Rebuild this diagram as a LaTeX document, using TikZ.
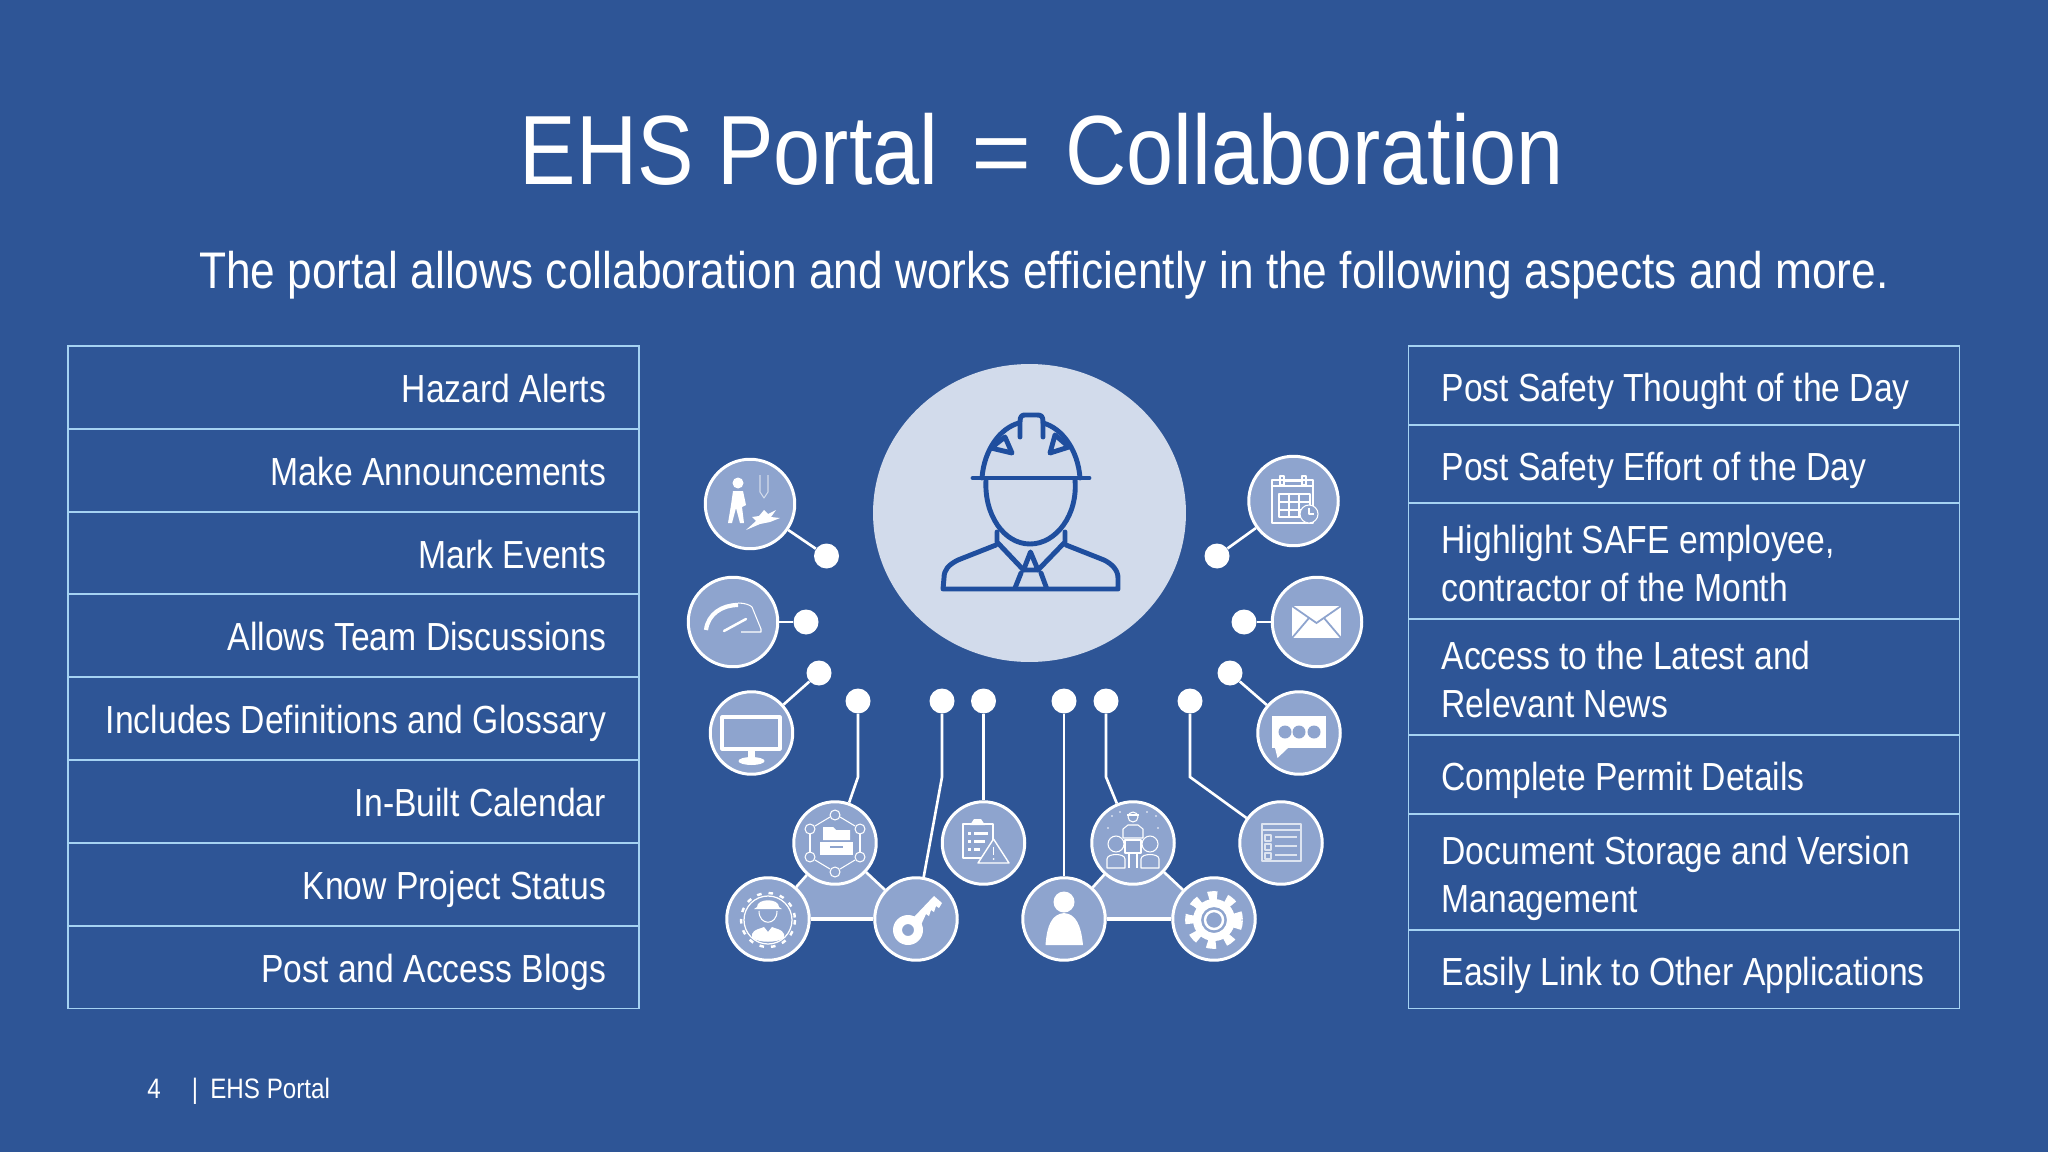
\documentclass[tikz,border=0pt]{standalone}
\usepackage{fontspec}
\setmainfont{Liberation Sans}[FakeStretch=0.86]
\usetikzlibrary{shapes.geometric}
\definecolor{slidebg}{HTML}{2E5596}
\definecolor{rowline}{HTML}{A5D2F2}
\definecolor{discfill}{HTML}{8EA4CE}
\definecolor{bigfill}{HTML}{D2DBEB}
\definecolor{hatline}{HTML}{1F4E9E}
\tikzset{
  lrow/.style={draw=rowline, line width=0.9pt, minimum width=11.42cm, minimum height=1.66cm, inner xsep=0.66cm, inner ysep=0pt, text width=10.1cm, align=flush right, text height=24pt, text depth=6.9pt, text=white, font=\fontsize{22.3}{27.3}\selectfont},
  rrow/.style={draw=rowline, line width=0.9pt, minimum width=11.02cm, minimum height=1.58cm, inner xsep=0.66cm, inner ysep=0pt, text width=9.7cm, align=flush left, text height=24pt, text depth=5.4pt, text=white, font=\fontsize{22.3}{27.3}\selectfont},
  rrowtwo/.style={rrow, minimum height=2.32cm, text depth=32.7pt},
  bigdisc/.style={ellipse, fill=bigfill, inner sep=0pt, minimum width=6.26cm, minimum height=5.96cm},
  disc/.style={circle, draw=white, line width=1.7pt, fill=discfill, inner sep=0pt, minimum size=1.79cm},
  smalldisc/.style={disc, minimum size=1.65cm},
  pin/.style={circle, fill=white, inner sep=0pt, minimum size=0.5cm},
  wire/.style={draw=white, line width=1.5pt},
  icon/.style={draw=white, line width=1pt, line join=round},
  thinicon/.style={draw=white, line width=0.6pt, line join=round},
  hatstroke/.style={draw=hatline, line width=2.8pt, line join=round, line cap=round}
}
\begin{document}
\begin{tikzpicture}[x=0.02cm,y=-0.02cm]
\useasboundingbox (0,0) rectangle (2048,1152);
\fill[slidebg] (0,0) rectangle (2048,1152);
% heading
\node[text=white, anchor=base, font=\fontsize{56}{64}\selectfont] (title) at (1042,185){EHS Portal\hspace{0.1em} \scalebox{1.22}[0.95]{=} \hspace{0.1em}Collaboration};
\node[text=white, anchor=base, font=\fontsize{29.3}{34}\selectfont] (subtitle) at (1044,288){The portal allows collaboration and works efficiently in the following aspects and more.};
% left list
\node[lrow] (lrow0) at (353.5,387.5){Hazard Alerts};
\node[lrow] (lrow1) at (353.5,470.5){Make Announcements};
\node[lrow] (lrow2) at (353.5,553){Mark Events};
\node[lrow] (lrow3) at (353.5,635.5){Allows Team Discussions};
\node[lrow] (lrow4) at (353.5,718.5){Includes Definitions and Glossary};
\node[lrow] (lrow5) at (353.5,801.5){In-Built Calendar};
\node[lrow] (lrow6) at (353.5,884.5){Know Project Status};
\node[lrow] (lrow7) at (353.5,967){Post and Access Blogs};
% right list
\node[rrow] (rrow0) at (1684,385.5){Post Safety Thought of the Day};
\node[rrow] (rrow1) at (1684,464){Post Safety Effort of the Day};
\node[rrowtwo] (rrow2) at (1684,561){Highlight SAFE employee,\\contractor of the Month};
\node[rrowtwo] (rrow3) at (1684,677){Access to the Latest and\\Relevant News};
\node[rrow] (rrow4) at (1684,774.5){Complete Permit Details};
\node[rrowtwo] (rrow5) at (1684,872){Document Storage and Version\\Management};
\node[rrow] (rrow6) at (1684,969){\mbox{Easily Link to Other Applications}};
% triangles behind the lower discs
\coordinate (cworker) at (768,919);
\coordinate (ckey) at (916,919);
\coordinate (cfolder) at (835,843);
\coordinate (cperson) at (1064,919);
\coordinate (cgear) at (1214,919);
\coordinate (cmeeting) at (1133,843);
\fill[discfill] (cworker) -- (cfolder) -- (ckey) -- cycle;
\fill[discfill] (cperson) -- (cmeeting) -- (cgear) -- cycle;
% discs
\node[bigdisc] (hub) at (1029.5,513){};
\node[disc] (hazard) at (750,504){};
\node[disc] (gauge) at (733,622){};
\node[smalldisc] (monitor) at (751.5,733){};
\node[disc] (calendar) at (1293.5,501){};
\node[disc] (mail) at (1317,622){};
\node[smalldisc] (chat) at (1299,733){};
\node[smalldisc] (folder) at (cfolder){};
\node[smalldisc] (clipboard) at (983.5,843){};
\node[smalldisc] (meeting) at (cmeeting){};
\node[smalldisc] (checklist) at (1281,843){};
\node[smalldisc] (worker) at (cworker){};
\node[smalldisc] (key) at (ckey){};
\node[smalldisc] (person) at (cperson){};
\node[smalldisc] (gear) at (cgear){};
% pins
\node[pin] (pin0) at (826.5,556){};
\node[pin] (pin1) at (806,622){};
\node[pin] (pin2) at (819,673){};
\node[pin] (pin3) at (1217,556){};
\node[pin] (pin4) at (1244,622){};
\node[pin] (pin5) at (1230,673){};
\node[pin] (pin6) at (858,701){};
\node[pin] (pin7) at (942,701){};
\node[pin] (pin8) at (983.5,701){};
\node[pin] (pin9) at (1064,701){};
\node[pin] (pin10) at (1106,701){};
\node[pin] (pin11) at (1190,701){};
\coordinate (bend6) at (858,777);
\coordinate (bend7) at (942,777);
\coordinate (bend10) at (1106,777);
\coordinate (bend11) at (1190,777);
% connectors
\draw[wire](hazard) -- (pin0);
\draw[wire](gauge) -- (pin1);
\draw[wire](monitor) -- (pin2);
\draw[wire](calendar) -- (pin3);
\draw[wire](mail) -- (pin4);
\draw[wire](chat) -- (pin5);
\draw[wire](pin6) -- (bend6) -- (folder);
\draw[wire](pin7) -- (bend7) -- (key);
\draw[wire](pin8) -- (clipboard);
\draw[wire](pin9) -- (person);
\draw[wire](pin10) -- (bend10) -- (meeting);
\draw[wire](pin11) -- (bend11) -- (checklist);
\draw[wire](worker) -- (folder);
\draw[wire](folder) -- (key);
\draw[wire, line width=2.2pt](worker) -- (key);
\draw[wire](person) -- (meeting);
\draw[wire](meeting) -- (gear);
\draw[wire, line width=2.2pt](person) -- (gear);
% hard hat figure
\draw[hatstroke] (973,478) -- (1089,478);
\draw[hatstroke] (982,478) .. controls (984,450) and (1000,428) .. (1019,423);
\draw[hatstroke] (1080,478) .. controls (1078,450) and (1062,428) .. (1043,423);
\draw[hatstroke] (1020,437) -- (1020,422) .. controls (1020,416) and (1022,415) .. (1025,415) -- (1037,415) .. controls (1041,415) and (1043,416) .. (1043,422) -- (1043,437);
\draw[hatstroke] (1005,437) -- (991,448) -- (1012,453) -- cycle;
\draw[hatstroke] (1055,435) -- (1069,447) -- (1050,453) -- cycle;
\draw[hatstroke] (986,480) .. controls (984,515) and (1004,544) .. (1030,544) .. controls (1056,544) and (1078,515) .. (1075,480);
\draw[hatstroke] (997,532) -- (997,542) -- (1023.5,570);
\draw[hatstroke] (1065,532) -- (1065,542) -- (1038,570);
\draw[hatstroke] (1030.5,552) -- (1023.5,570) -- (1038,570) -- cycle;
\draw[hatstroke] (1021,573) -- (1015,588);
\draw[hatstroke] (1041,573) -- (1046.5,588);
\draw[hatstroke] (996,545) -- (958,560) .. controls (948,565) and (944,570) .. (944,578) -- (943,589) -- (1118,589) -- (1118,578) .. controls (1118,570) and (1112,564) .. (1104,560) -- (1066,545);
% hazard icon
\fill[white] (738,483) circle (5.5);
\fill[white] (733,491) -- (743,491) -- (746,505) -- (742,507) -- (744,523) -- (740,523) -- (736,508) -- (732,523) -- (728,523) -- (731,505) -- cycle;
\draw[thinicon, white!60!discfill] (760,475) -- (760,492) -- (764,498) -- (768,492) -- (768,475);
\fill[white] (764,510) -- (768,514) -- (776,510) -- (771,517) -- (780,518) -- (770,522) -- (760,524) -- (746,530) -- (756,521) -- (752,517) -- (759,516) -- cycle;
% gauge icon
\draw[draw=white, line width=2.4pt] (706,630) .. controls (708,614) and (722,605) .. (738,605);
\draw[thinicon] (738,603) .. controls (745,603) and (750,605) .. (752,607) -- (761,629) -- (761,632) -- (741,632);
\draw[icon, line width=1.4pt, line cap=round] (724,631) -- (746,619);
% calendar icon
\draw[thinicon] (1272,480) rectangle (1313,523);
\draw[thinicon] (1272,486) -- (1313,486);
\draw[thinicon] (1280,476) rectangle (1284,485);
\draw[thinicon] (1302,476) rectangle (1306,485);
\draw[thinicon] (1284,481) -- (1302,481);
\draw[thinicon] (1279,494) rectangle (1310,517);
\draw[thinicon] (1289,494) -- (1289,517);
\draw[thinicon] (1299,494) -- (1299,517);
\draw[thinicon] (1279,502) -- (1310,502);
\draw[thinicon] (1279,510) -- (1310,510);
\draw[thinicon, fill=discfill] (1309,514) circle (9);
\draw[thinicon] (1309,508) -- (1309,514) -- (1314,514);
% mail icon
\fill[white] (1292,606) rectangle (1341,638);
\draw[draw=discfill, line width=1pt] (1292,606) -- (1316.5,623) -- (1341,606);
\draw[draw=discfill, line width=1pt] (1292,638) -- (1309,618);
\draw[draw=discfill, line width=1pt] (1341,638) -- (1324,618);
% monitor icon
\draw[icon, line width=1.8pt] (722,717) rectangle (780,749);
\fill[white] (748,750) rectangle (755,758);
\fill[white] (751.5,761) ellipse (13 and 4);
% chat icon
\fill[white] (1272,716) rectangle (1326,748);
\fill[white] (1275,748) -- (1277.5,758) -- (1288,748) -- cycle;
\fill[discfill] (1285,732) circle (6.5);
\fill[discfill] (1299,732) circle (6.5);
\fill[discfill] (1314,732) circle (6.5);
% folder icon
\draw[thinicon] (835,815) circle (5);
\draw[thinicon] (860,829) circle (5);
\draw[thinicon] (860,857) circle (5);
\draw[thinicon] (835,872) circle (5);
\draw[thinicon] (810,857) circle (5);
\draw[thinicon] (810,829) circle (5);
\draw[thinicon] (840,817) -- (855,826);
\draw[thinicon] (860,834) -- (860,852);
\draw[thinicon] (855,860) -- (840,869);
\draw[thinicon] (830,869) -- (815,860);
\draw[thinicon] (810,852) -- (810,834);
\draw[thinicon] (815,826) -- (830,817);
\fill[white] (823,827) -- (833,827) -- (836,830) -- (850,830) -- (850,840) -- (823,840) -- cycle;
\fill[white] (820,842) rectangle (853,855);
\draw[draw=discfill, line width=0.7pt] (830,847) -- (843,847);
% clipboard icon
\draw[thinicon] (963,824) rectangle (993,858);
\fill[white] (970,825) -- (974,819) -- (981,819) -- (985,825) -- cycle;
\fill[white] (968,832) rectangle (971,835);
\fill[white] (974,832) rectangle (988,834.5);
\fill[white] (968,840) rectangle (971,843);
\fill[white] (974,840) rectangle (985,842.5);
\fill[white] (968,848) rectangle (971,851);
\fill[white] (974,848) rectangle (980,850.5);
\draw[thinicon, fill=discfill, line width=0.8pt] (993.5,839) -- (1009,863) -- (978,863) -- cycle;
\draw[draw=white, line width=0.8pt] (993.5,847) -- (993.5,855);
\fill[white] (993.5,859) circle (1);
% meeting icon
\draw[thinicon] (1133,817) circle (5);
\draw[thinicon] (1127,815) -- (1139,815);
\draw[thinicon] (1123,838) -- (1123,829) -- (1128,825) -- (1138,825) -- (1143,829) -- (1143,838) -- cycle;
\draw[thinicon] (1116,844) circle (8);
\draw[thinicon] (1150,844) circle (8);
\draw[thinicon] (1107,868) -- (1107,859) .. controls (1107,853) and (1125,853) .. (1125,859) -- (1125,868) -- cycle;
\draw[thinicon] (1141,868) -- (1141,859) .. controls (1141,853) and (1159,853) .. (1159,859) -- (1159,868) -- cycle;
\draw[thinicon] (1125,840) rectangle (1141,853);
\draw[thinicon] (1129,853) -- (1129,868);
\draw[thinicon] (1137,853) -- (1137,868);
\fill[white] (1112,816) circle (0.8);
\fill[white] (1120,812) circle (0.8);
\fill[white] (1147,812) circle (0.8);
\fill[white] (1156,816) circle (0.8);
\fill[white] (1108,828) circle (0.8);
\fill[white] (1158,828) circle (0.8);
% checklist icon
\draw[thinicon, white!70!discfill] (1262,824) rectangle (1301,861);
\draw[thinicon, white!70!discfill] (1262,830) -- (1301,830);
\draw[thinicon, white!70!discfill] (1265,835) rectangle (1271,841);
\draw[thinicon, white!70!discfill] (1265,844) rectangle (1271,850);
\draw[thinicon, white!70!discfill] (1265,853) rectangle (1271,859);
\draw[white!70!discfill, line width=1.2pt] (1275,837) -- (1297,837);
\draw[white!70!discfill, line width=1.2pt] (1275,846) -- (1297,846);
\draw[white!70!discfill, line width=1.2pt] (1275,855) -- (1297,855);
% worker icon
\draw[draw=white, line width=0.7pt] (768,920) circle (24);
\draw[draw=white, line width=1.4pt, dash pattern=on 2.6pt off 4pt] (768,920) circle (27);
\fill[white] (757,907) .. controls (757,898) and (779,898) .. (779,907) -- (782,909) -- (754,909) -- cycle;
\draw[thinicon] (759,911) .. controls (759,926) and (777,926) .. (777,911);
\fill[white] (752,938) -- (752,934) .. controls (754,929) and (760,929) .. (764,927) -- (768,932) -- (772,927) .. controls (776,929) and (782,929) .. (784,934) -- (784,938) .. controls (776,943) and (760,943) .. (752,938) -- cycle;
% key icon
\fill[white, even odd rule] (908,930) circle (15) (908,930) circle (6);
\fill[white] (914,917) -- (934,896) -- (942,903) -- (939,908) -- (936,906) -- (934,912) -- (931,910) -- (929,916) -- (926,914) -- (921,925) -- cycle;
% person icon
\fill[white] (1064,902) circle (10.5);
\fill[white] (1045.5,945) .. controls (1047,925) and (1052,914) .. (1064,913) .. controls (1076,914) and (1081,925) .. (1083,945) -- cycle;
% gear icon
\draw[draw=white, line width=5pt, dash pattern=on 5pt off 5.4pt] (1214,920) circle (24.5);
\fill[white, even odd rule] (1214,920) circle (21) (1214,920) circle (13);
\draw[draw=white, line width=1.4pt] (1214,920) circle (9);
% footer
\node[text=white, anchor=base, font=\fontsize{16}{20}\selectfont] (pageno) at (154,1098){4};
\node[text=white, anchor=base, font=\fontsize{16}{20}\selectfont] (bar) at (195,1098){|};
\node[text=white, anchor=base west, inner xsep=0pt, font=\fontsize{16}{20}\selectfont] (footer) at (210,1098){EHS Portal};
\end{tikzpicture}
\end{document}
